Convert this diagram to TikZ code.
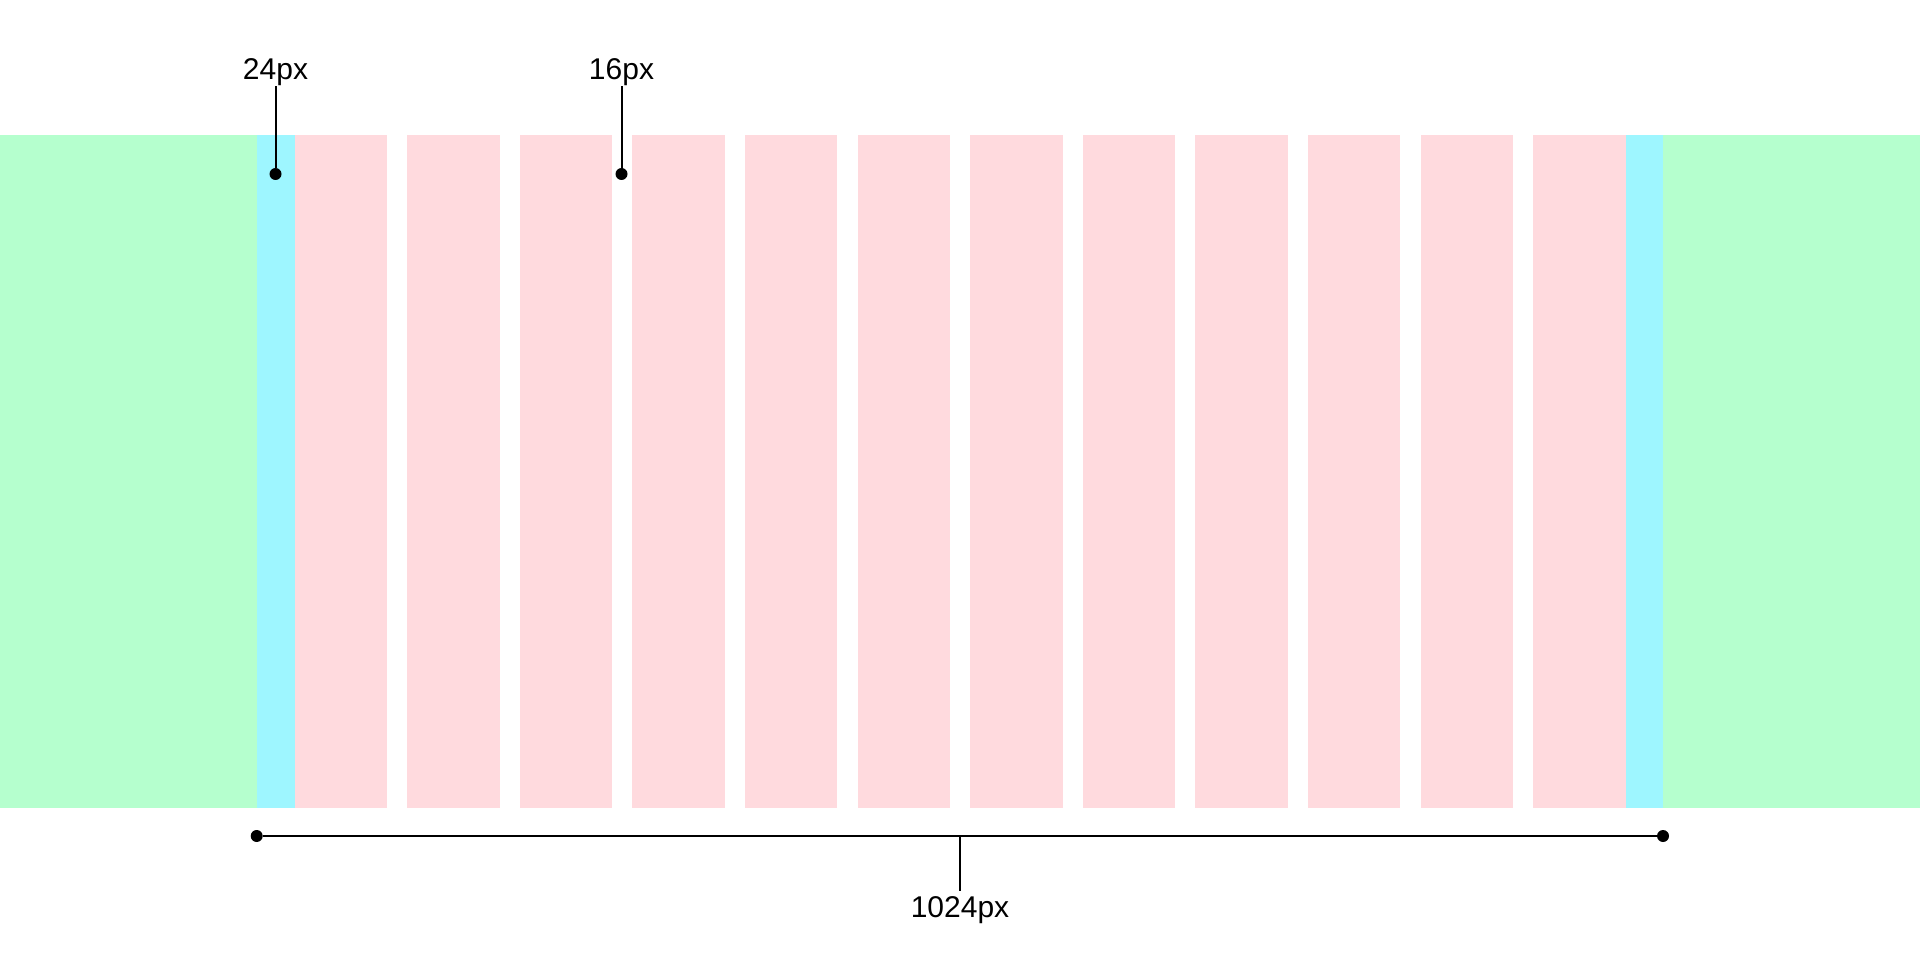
\documentclass[tikz,border=0pt]{standalone}
\usepackage{fontspec}
\setmainfont{Liberation Sans}
\definecolor{marginGreen}{RGB}{181,255,206}
\definecolor{paddingCyan}{RGB}{158,246,255}
\definecolor{columnPink}{RGB}{255,218,222}
\begin{document}
\begin{tikzpicture}[x=1pt,y=-1pt,
    dimline/.style={line width=2pt,black},
    dimlabel/.style={inner sep=0pt,font=\fontsize{30}{36}\selectfont},
    dimdot/.style={circle,fill=black,inner sep=0pt,minimum size=12pt}]
  \useasboundingbox (0,0) rectangle (1920,960);
  \fill[marginGreen] (0,135) rectangle (256.7,808);
  \fill[marginGreen] (1663,135) rectangle (1920,808);
  \fill[paddingCyan] (256.7,135) rectangle (294.5,808);
  \fill[paddingCyan] (1625.6,135) rectangle (1663,808);
  \foreach \i in {0,...,11}
    \fill[columnPink] ({294.5+112.6*\i},135) rectangle ++(92.4,673);
  \node[dimlabel,anchor=base](lbl24)at(275.5,80){24px};
  \node[dimlabel,anchor=base](lbl16)at(621.5,80){16px};
  \node[dimdot](dot24)at(275.5,174){};
  \node[dimdot](dot16)at(621.5,174){};
  \draw[dimline](lbl24)--(dot24);
  \draw[dimline](lbl16)--(dot16);
  \node[dimdot](dotleft)at(256.7,836){};
  \node[dimdot](dotright)at(1663,836){};
  \coordinate(mid)at(960,836);
  \node[dimlabel,anchor=base,outer sep=5pt](lbl1024)at(960,917){1024px};
  \draw[dimline](dotleft)--(dotright);
  \draw[dimline](mid)--(lbl1024.north);
\end{tikzpicture}
\end{document}
